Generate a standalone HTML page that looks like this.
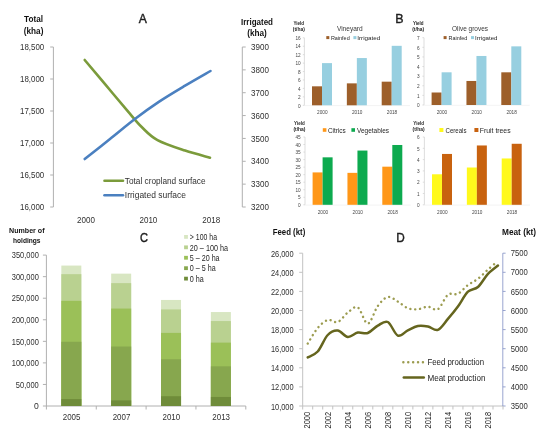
<!DOCTYPE html>
<html lang="en">
<head>
<meta charset="utf-8">
<title>Figure</title>
<style>
html,body{margin:0;padding:0;background:#fff;}
body{width:550px;height:438px;overflow:hidden;}
svg{display:block;font-family:"Liberation Sans",sans-serif;fill:#303030;}
#fig{filter:blur(0.5px);}
</style>
</head>
<body>
<svg width="550" height="438" viewBox="0 0 550 438">
<rect x="0" y="0" width="550" height="438" fill="#ffffff"/>
<g id="fig">
<line x1="53.40" y1="47.00" x2="53.40" y2="207.00" stroke="#b0b0b0" stroke-width="1"/>
<line x1="242.30" y1="47.00" x2="242.30" y2="207.00" stroke="#b0b0b0" stroke-width="1"/>
<line x1="50.20" y1="47.00" x2="53.40" y2="47.00" stroke="#b0b0b0" stroke-width="1"/>
<text x="44.20" y="47.20" font-size="8.6" text-anchor="end" dominant-baseline="central" textLength="24.20" lengthAdjust="spacingAndGlyphs">18,500</text>
<line x1="50.20" y1="79.00" x2="53.40" y2="79.00" stroke="#b0b0b0" stroke-width="1"/>
<text x="44.20" y="79.20" font-size="8.6" text-anchor="end" dominant-baseline="central" textLength="24.20" lengthAdjust="spacingAndGlyphs">18,000</text>
<line x1="50.20" y1="111.00" x2="53.40" y2="111.00" stroke="#b0b0b0" stroke-width="1"/>
<text x="44.20" y="111.20" font-size="8.6" text-anchor="end" dominant-baseline="central" textLength="24.20" lengthAdjust="spacingAndGlyphs">17,500</text>
<line x1="50.20" y1="143.00" x2="53.40" y2="143.00" stroke="#b0b0b0" stroke-width="1"/>
<text x="44.20" y="143.20" font-size="8.6" text-anchor="end" dominant-baseline="central" textLength="24.20" lengthAdjust="spacingAndGlyphs">17,000</text>
<line x1="50.20" y1="175.00" x2="53.40" y2="175.00" stroke="#b0b0b0" stroke-width="1"/>
<text x="44.20" y="175.20" font-size="8.6" text-anchor="end" dominant-baseline="central" textLength="24.20" lengthAdjust="spacingAndGlyphs">16,500</text>
<line x1="50.20" y1="207.00" x2="53.40" y2="207.00" stroke="#b0b0b0" stroke-width="1"/>
<text x="44.20" y="207.20" font-size="8.6" text-anchor="end" dominant-baseline="central" textLength="24.20" lengthAdjust="spacingAndGlyphs">16,000</text>
<line x1="242.30" y1="47.00" x2="245.70" y2="47.00" stroke="#b0b0b0" stroke-width="1"/>
<text x="251.00" y="47.20" font-size="8.6" text-anchor="start" dominant-baseline="central" textLength="17.90" lengthAdjust="spacingAndGlyphs">3900</text>
<line x1="242.30" y1="69.86" x2="245.70" y2="69.86" stroke="#b0b0b0" stroke-width="1"/>
<text x="251.00" y="70.06" font-size="8.6" text-anchor="start" dominant-baseline="central" textLength="17.90" lengthAdjust="spacingAndGlyphs">3800</text>
<line x1="242.30" y1="92.71" x2="245.70" y2="92.71" stroke="#b0b0b0" stroke-width="1"/>
<text x="251.00" y="92.91" font-size="8.6" text-anchor="start" dominant-baseline="central" textLength="17.90" lengthAdjust="spacingAndGlyphs">3700</text>
<line x1="242.30" y1="115.57" x2="245.70" y2="115.57" stroke="#b0b0b0" stroke-width="1"/>
<text x="251.00" y="115.77" font-size="8.6" text-anchor="start" dominant-baseline="central" textLength="17.90" lengthAdjust="spacingAndGlyphs">3600</text>
<line x1="242.30" y1="138.43" x2="245.70" y2="138.43" stroke="#b0b0b0" stroke-width="1"/>
<text x="251.00" y="138.63" font-size="8.6" text-anchor="start" dominant-baseline="central" textLength="17.90" lengthAdjust="spacingAndGlyphs">3500</text>
<line x1="242.30" y1="161.29" x2="245.70" y2="161.29" stroke="#b0b0b0" stroke-width="1"/>
<text x="251.00" y="161.49" font-size="8.6" text-anchor="start" dominant-baseline="central" textLength="17.90" lengthAdjust="spacingAndGlyphs">3400</text>
<line x1="242.30" y1="184.14" x2="245.70" y2="184.14" stroke="#b0b0b0" stroke-width="1"/>
<text x="251.00" y="184.34" font-size="8.6" text-anchor="start" dominant-baseline="central" textLength="17.90" lengthAdjust="spacingAndGlyphs">3300</text>
<line x1="242.30" y1="207.00" x2="245.70" y2="207.00" stroke="#b0b0b0" stroke-width="1"/>
<text x="251.00" y="207.20" font-size="8.6" text-anchor="start" dominant-baseline="central" textLength="17.90" lengthAdjust="spacingAndGlyphs">3200</text>
<text x="33.60" y="19.30" font-size="8.2" text-anchor="middle" dominant-baseline="central" font-weight="bold" fill="#111111">Total</text>
<text x="33.60" y="31.00" font-size="8.2" text-anchor="middle" dominant-baseline="central" font-weight="bold" fill="#111111">(kha)</text>
<text x="257.00" y="22.60" font-size="8.2" text-anchor="middle" dominant-baseline="central" font-weight="bold" fill="#111111" textLength="32.00" lengthAdjust="spacingAndGlyphs">Irrigated</text>
<text x="257.00" y="33.90" font-size="8.2" text-anchor="middle" dominant-baseline="central" font-weight="bold" fill="#111111">(kha)</text>
<text x="142.90" y="23.20" font-size="13.2" text-anchor="middle" fill="#1e1e1e" stroke="#1e1e1e" stroke-width="0.45" textLength="8.1" lengthAdjust="spacingAndGlyphs">A</text>
<text x="86.00" y="219.60" font-size="8.6" text-anchor="middle" dominant-baseline="central" textLength="17.90" lengthAdjust="spacingAndGlyphs">2000</text>
<text x="148.40" y="219.60" font-size="8.6" text-anchor="middle" dominant-baseline="central" textLength="17.90" lengthAdjust="spacingAndGlyphs">2010</text>
<text x="211.20" y="219.60" font-size="8.6" text-anchor="middle" dominant-baseline="central" textLength="17.90" lengthAdjust="spacingAndGlyphs">2018</text>
<path d="M84.70,60.00 C88.30,64.28 99.20,77.27 106.30,85.70 C113.40,94.13 121.40,103.72 127.30,110.60 C133.20,117.48 136.67,122.08 141.70,127.00 C146.73,131.92 150.27,136.17 157.50,140.10 C164.73,144.03 176.35,147.67 185.10,150.60 C193.85,153.53 205.85,156.52 210.00,157.70" fill="none" stroke="#7b9b3b" stroke-width="2.6" stroke-linecap="round"/>
<path d="M84.70,159.00 C88.92,155.67 101.58,145.70 110.00,139.00 C118.42,132.30 127.07,124.98 135.20,118.80 C143.33,112.62 150.48,107.42 158.80,101.90 C167.12,96.38 176.48,90.85 185.10,85.70 C193.72,80.55 206.27,73.45 210.50,71.00" fill="none" stroke="#4b80c0" stroke-width="2.6" stroke-linecap="round"/>
<line x1="104.5" y1="180.8" x2="123" y2="180.8" stroke="#7b9b3b" stroke-width="2.6" stroke-linecap="round"/>
<text x="124.80" y="180.80" font-size="8.6" text-anchor="start" dominant-baseline="central" textLength="80.80" lengthAdjust="spacingAndGlyphs">Total cropland surface</text>
<line x1="104.5" y1="195.2" x2="123" y2="195.2" stroke="#4b80c0" stroke-width="2.6" stroke-linecap="round"/>
<text x="124.80" y="195.20" font-size="8.6" text-anchor="start" dominant-baseline="central" textLength="61.20" lengthAdjust="spacingAndGlyphs">Irrigated surface</text>
<line x1="304.40" y1="37.80" x2="304.40" y2="105.30" stroke="#d4d4d4" stroke-width="0.8"/>
<line x1="304.40" y1="105.60" x2="410.00" y2="105.60" stroke="#ebebeb" stroke-width="0.6"/>
<line x1="302.80" y1="105.30" x2="304.40" y2="105.30" stroke="#d4d4d4" stroke-width="0.8"/>
<text x="300.70" y="106.00" font-size="4.7" text-anchor="end" dominant-baseline="central" fill="#464646">0</text>
<line x1="302.80" y1="96.86" x2="304.40" y2="96.86" stroke="#d4d4d4" stroke-width="0.8"/>
<text x="300.70" y="97.56" font-size="4.7" text-anchor="end" dominant-baseline="central" fill="#464646">2</text>
<line x1="302.80" y1="88.42" x2="304.40" y2="88.42" stroke="#d4d4d4" stroke-width="0.8"/>
<text x="300.70" y="89.12" font-size="4.7" text-anchor="end" dominant-baseline="central" fill="#464646">4</text>
<line x1="302.80" y1="79.99" x2="304.40" y2="79.99" stroke="#d4d4d4" stroke-width="0.8"/>
<text x="300.70" y="80.69" font-size="4.7" text-anchor="end" dominant-baseline="central" fill="#464646">6</text>
<line x1="302.80" y1="71.55" x2="304.40" y2="71.55" stroke="#d4d4d4" stroke-width="0.8"/>
<text x="300.70" y="72.25" font-size="4.7" text-anchor="end" dominant-baseline="central" fill="#464646">8</text>
<line x1="302.80" y1="63.11" x2="304.40" y2="63.11" stroke="#d4d4d4" stroke-width="0.8"/>
<text x="300.70" y="63.81" font-size="4.7" text-anchor="end" dominant-baseline="central" fill="#464646">10</text>
<line x1="302.80" y1="54.67" x2="304.40" y2="54.67" stroke="#d4d4d4" stroke-width="0.8"/>
<text x="300.70" y="55.38" font-size="4.7" text-anchor="end" dominant-baseline="central" fill="#464646">12</text>
<line x1="302.80" y1="46.24" x2="304.40" y2="46.24" stroke="#d4d4d4" stroke-width="0.8"/>
<text x="300.70" y="46.94" font-size="4.7" text-anchor="end" dominant-baseline="central" fill="#464646">14</text>
<line x1="302.80" y1="37.80" x2="304.40" y2="37.80" stroke="#d4d4d4" stroke-width="0.8"/>
<text x="300.70" y="38.50" font-size="4.7" text-anchor="end" dominant-baseline="central" fill="#464646">16</text>
<text x="298.80" y="23.00" font-size="4.7" text-anchor="middle" dominant-baseline="central" font-weight="bold" fill="#222" textLength="10.60" lengthAdjust="spacingAndGlyphs">Yield</text>
<text x="298.80" y="29.30" font-size="4.7" text-anchor="middle" dominant-baseline="central" font-weight="bold" fill="#222" textLength="12.00" lengthAdjust="spacingAndGlyphs">(t/ha)</text>
<rect x="312.00" y="86.32" width="10.00" height="18.98" fill="#9d5f2a"/>
<rect x="322.00" y="63.11" width="10.00" height="42.19" fill="#97cfe0"/>
<text x="322.30" y="112.30" font-size="4.7" text-anchor="middle" dominant-baseline="central" fill="#464646">2000</text>
<rect x="346.85" y="83.36" width="10.00" height="21.94" fill="#9d5f2a"/>
<rect x="356.85" y="58.05" width="10.00" height="47.25" fill="#97cfe0"/>
<text x="357.15" y="112.30" font-size="4.7" text-anchor="middle" dominant-baseline="central" fill="#464646">2010</text>
<rect x="381.70" y="81.67" width="10.00" height="23.62" fill="#9d5f2a"/>
<rect x="391.70" y="45.82" width="10.00" height="59.48" fill="#97cfe0"/>
<text x="392.00" y="112.30" font-size="4.7" text-anchor="middle" dominant-baseline="central" fill="#464646">2018</text>
<text x="349.80" y="28.00" font-size="6.8" text-anchor="middle" dominant-baseline="central" fill="#383838" textLength="25.80" lengthAdjust="spacingAndGlyphs">Vineyard</text>
<rect x="326.30" y="36.10" width="3.00" height="3.00" fill="#9d5f2a"/>
<text x="330.90" y="37.70" font-size="6.2" text-anchor="start" dominant-baseline="central" fill="#262626" textLength="18.80" lengthAdjust="spacingAndGlyphs">Rainfed</text>
<rect x="353.40" y="36.10" width="3.00" height="3.00" fill="#97cfe0"/>
<text x="357.20" y="37.70" font-size="6.2" text-anchor="start" dominant-baseline="central" fill="#262626" textLength="23.20" lengthAdjust="spacingAndGlyphs">Irrigated</text>
<line x1="424.00" y1="37.70" x2="424.00" y2="105.00" stroke="#d4d4d4" stroke-width="0.8"/>
<line x1="424.00" y1="105.30" x2="529.60" y2="105.30" stroke="#ebebeb" stroke-width="0.6"/>
<line x1="422.40" y1="105.00" x2="424.00" y2="105.00" stroke="#d4d4d4" stroke-width="0.8"/>
<text x="419.60" y="105.70" font-size="4.7" text-anchor="end" dominant-baseline="central" fill="#464646">0</text>
<line x1="422.40" y1="95.39" x2="424.00" y2="95.39" stroke="#d4d4d4" stroke-width="0.8"/>
<text x="419.60" y="96.09" font-size="4.7" text-anchor="end" dominant-baseline="central" fill="#464646">1</text>
<line x1="422.40" y1="85.77" x2="424.00" y2="85.77" stroke="#d4d4d4" stroke-width="0.8"/>
<text x="419.60" y="86.47" font-size="4.7" text-anchor="end" dominant-baseline="central" fill="#464646">2</text>
<line x1="422.40" y1="76.16" x2="424.00" y2="76.16" stroke="#d4d4d4" stroke-width="0.8"/>
<text x="419.60" y="76.86" font-size="4.7" text-anchor="end" dominant-baseline="central" fill="#464646">3</text>
<line x1="422.40" y1="66.54" x2="424.00" y2="66.54" stroke="#d4d4d4" stroke-width="0.8"/>
<text x="419.60" y="67.24" font-size="4.7" text-anchor="end" dominant-baseline="central" fill="#464646">4</text>
<line x1="422.40" y1="56.93" x2="424.00" y2="56.93" stroke="#d4d4d4" stroke-width="0.8"/>
<text x="419.60" y="57.63" font-size="4.7" text-anchor="end" dominant-baseline="central" fill="#464646">5</text>
<line x1="422.40" y1="47.31" x2="424.00" y2="47.31" stroke="#d4d4d4" stroke-width="0.8"/>
<text x="419.60" y="48.01" font-size="4.7" text-anchor="end" dominant-baseline="central" fill="#464646">6</text>
<line x1="422.40" y1="37.70" x2="424.00" y2="37.70" stroke="#d4d4d4" stroke-width="0.8"/>
<text x="419.60" y="38.40" font-size="4.7" text-anchor="end" dominant-baseline="central" fill="#464646">7</text>
<text x="418.20" y="23.00" font-size="4.7" text-anchor="middle" dominant-baseline="central" font-weight="bold" fill="#222" textLength="10.60" lengthAdjust="spacingAndGlyphs">Yield</text>
<text x="418.20" y="29.30" font-size="4.7" text-anchor="middle" dominant-baseline="central" font-weight="bold" fill="#222" textLength="12.00" lengthAdjust="spacingAndGlyphs">(t/ha)</text>
<rect x="431.60" y="92.50" width="10.00" height="12.50" fill="#9d5f2a"/>
<rect x="441.60" y="72.31" width="10.00" height="32.69" fill="#97cfe0"/>
<text x="441.90" y="112.30" font-size="4.7" text-anchor="middle" dominant-baseline="central" fill="#464646">2000</text>
<rect x="466.45" y="80.96" width="10.00" height="24.04" fill="#9d5f2a"/>
<rect x="476.45" y="55.97" width="10.00" height="49.03" fill="#97cfe0"/>
<text x="476.75" y="112.30" font-size="4.7" text-anchor="middle" dominant-baseline="central" fill="#464646">2010</text>
<rect x="501.30" y="72.31" width="10.00" height="32.69" fill="#9d5f2a"/>
<rect x="511.30" y="46.35" width="10.00" height="58.65" fill="#97cfe0"/>
<text x="511.60" y="112.30" font-size="4.7" text-anchor="middle" dominant-baseline="central" fill="#464646">2018</text>
<text x="470.00" y="28.00" font-size="6.8" text-anchor="middle" dominant-baseline="central" fill="#383838" textLength="36.00" lengthAdjust="spacingAndGlyphs">Olive groves</text>
<rect x="443.60" y="36.10" width="3.00" height="3.00" fill="#9d5f2a"/>
<text x="448.60" y="37.70" font-size="6.2" text-anchor="start" dominant-baseline="central" fill="#262626" textLength="18.70" lengthAdjust="spacingAndGlyphs">Rainfed</text>
<rect x="471.00" y="36.10" width="3.00" height="3.00" fill="#97cfe0"/>
<text x="475.00" y="37.70" font-size="6.2" text-anchor="start" dominant-baseline="central" fill="#262626" textLength="22.50" lengthAdjust="spacingAndGlyphs">Irrigated</text>
<line x1="305.00" y1="137.00" x2="305.00" y2="204.80" stroke="#d4d4d4" stroke-width="0.8"/>
<line x1="305.00" y1="205.10" x2="410.60" y2="205.10" stroke="#ebebeb" stroke-width="0.6"/>
<line x1="303.40" y1="204.80" x2="305.00" y2="204.80" stroke="#d4d4d4" stroke-width="0.8"/>
<text x="300.60" y="205.50" font-size="4.7" text-anchor="end" dominant-baseline="central" fill="#464646">0</text>
<line x1="303.40" y1="197.27" x2="305.00" y2="197.27" stroke="#d4d4d4" stroke-width="0.8"/>
<text x="300.60" y="197.97" font-size="4.7" text-anchor="end" dominant-baseline="central" fill="#464646">5</text>
<line x1="303.40" y1="189.73" x2="305.00" y2="189.73" stroke="#d4d4d4" stroke-width="0.8"/>
<text x="300.60" y="190.43" font-size="4.7" text-anchor="end" dominant-baseline="central" fill="#464646">10</text>
<line x1="303.40" y1="182.20" x2="305.00" y2="182.20" stroke="#d4d4d4" stroke-width="0.8"/>
<text x="300.60" y="182.90" font-size="4.7" text-anchor="end" dominant-baseline="central" fill="#464646">15</text>
<line x1="303.40" y1="174.67" x2="305.00" y2="174.67" stroke="#d4d4d4" stroke-width="0.8"/>
<text x="300.60" y="175.37" font-size="4.7" text-anchor="end" dominant-baseline="central" fill="#464646">20</text>
<line x1="303.40" y1="167.13" x2="305.00" y2="167.13" stroke="#d4d4d4" stroke-width="0.8"/>
<text x="300.60" y="167.83" font-size="4.7" text-anchor="end" dominant-baseline="central" fill="#464646">25</text>
<line x1="303.40" y1="159.60" x2="305.00" y2="159.60" stroke="#d4d4d4" stroke-width="0.8"/>
<text x="300.60" y="160.30" font-size="4.7" text-anchor="end" dominant-baseline="central" fill="#464646">30</text>
<line x1="303.40" y1="152.07" x2="305.00" y2="152.07" stroke="#d4d4d4" stroke-width="0.8"/>
<text x="300.60" y="152.77" font-size="4.7" text-anchor="end" dominant-baseline="central" fill="#464646">35</text>
<line x1="303.40" y1="144.53" x2="305.00" y2="144.53" stroke="#d4d4d4" stroke-width="0.8"/>
<text x="300.60" y="145.23" font-size="4.7" text-anchor="end" dominant-baseline="central" fill="#464646">40</text>
<line x1="303.40" y1="137.00" x2="305.00" y2="137.00" stroke="#d4d4d4" stroke-width="0.8"/>
<text x="300.60" y="137.70" font-size="4.7" text-anchor="end" dominant-baseline="central" fill="#464646">45</text>
<text x="299.40" y="123.20" font-size="4.7" text-anchor="middle" dominant-baseline="central" font-weight="bold" fill="#222" textLength="10.60" lengthAdjust="spacingAndGlyphs">Yield</text>
<text x="299.40" y="129.50" font-size="4.7" text-anchor="middle" dominant-baseline="central" font-weight="bold" fill="#222" textLength="12.00" lengthAdjust="spacingAndGlyphs">(t/ha)</text>
<rect x="312.60" y="172.41" width="10.00" height="32.39" fill="#ff9718"/>
<rect x="322.60" y="157.34" width="10.00" height="47.46" fill="#0daa4f"/>
<text x="322.90" y="212.00" font-size="4.7" text-anchor="middle" dominant-baseline="central" fill="#464646">2000</text>
<rect x="347.45" y="172.86" width="10.00" height="31.94" fill="#ff9718"/>
<rect x="357.45" y="150.56" width="10.00" height="54.24" fill="#0daa4f"/>
<text x="357.75" y="212.00" font-size="4.7" text-anchor="middle" dominant-baseline="central" fill="#464646">2010</text>
<rect x="382.30" y="166.68" width="10.00" height="38.12" fill="#ff9718"/>
<rect x="392.30" y="144.99" width="10.00" height="59.81" fill="#0daa4f"/>
<text x="392.60" y="212.00" font-size="4.7" text-anchor="middle" dominant-baseline="central" fill="#464646">2018</text>
<rect x="322.80" y="128.20" width="3.60" height="3.60" fill="#ff9718"/>
<text x="328.00" y="130.00" font-size="7.6" text-anchor="start" dominant-baseline="central" fill="#262626" textLength="17.70" lengthAdjust="spacingAndGlyphs">Citrics</text>
<rect x="351.40" y="128.20" width="3.60" height="3.60" fill="#0daa4f"/>
<text x="357.00" y="130.00" font-size="7.6" text-anchor="start" dominant-baseline="central" fill="#262626" textLength="32.00" lengthAdjust="spacingAndGlyphs">Vegetables</text>
<line x1="424.40" y1="137.00" x2="424.40" y2="204.80" stroke="#d4d4d4" stroke-width="0.8"/>
<line x1="424.40" y1="205.10" x2="530.00" y2="205.10" stroke="#ebebeb" stroke-width="0.6"/>
<line x1="422.80" y1="204.80" x2="424.40" y2="204.80" stroke="#d4d4d4" stroke-width="0.8"/>
<text x="419.60" y="205.50" font-size="4.7" text-anchor="end" dominant-baseline="central" fill="#464646">0</text>
<line x1="422.80" y1="193.50" x2="424.40" y2="193.50" stroke="#d4d4d4" stroke-width="0.8"/>
<text x="419.60" y="194.20" font-size="4.7" text-anchor="end" dominant-baseline="central" fill="#464646">1</text>
<line x1="422.80" y1="182.20" x2="424.40" y2="182.20" stroke="#d4d4d4" stroke-width="0.8"/>
<text x="419.60" y="182.90" font-size="4.7" text-anchor="end" dominant-baseline="central" fill="#464646">2</text>
<line x1="422.80" y1="170.90" x2="424.40" y2="170.90" stroke="#d4d4d4" stroke-width="0.8"/>
<text x="419.60" y="171.60" font-size="4.7" text-anchor="end" dominant-baseline="central" fill="#464646">3</text>
<line x1="422.80" y1="159.60" x2="424.40" y2="159.60" stroke="#d4d4d4" stroke-width="0.8"/>
<text x="419.60" y="160.30" font-size="4.7" text-anchor="end" dominant-baseline="central" fill="#464646">4</text>
<line x1="422.80" y1="148.30" x2="424.40" y2="148.30" stroke="#d4d4d4" stroke-width="0.8"/>
<text x="419.60" y="149.00" font-size="4.7" text-anchor="end" dominant-baseline="central" fill="#464646">5</text>
<line x1="422.80" y1="137.00" x2="424.40" y2="137.00" stroke="#d4d4d4" stroke-width="0.8"/>
<text x="419.60" y="137.70" font-size="4.7" text-anchor="end" dominant-baseline="central" fill="#464646">6</text>
<text x="418.60" y="123.00" font-size="4.7" text-anchor="middle" dominant-baseline="central" font-weight="bold" fill="#222" textLength="10.60" lengthAdjust="spacingAndGlyphs">Yield</text>
<text x="418.60" y="129.30" font-size="4.7" text-anchor="middle" dominant-baseline="central" font-weight="bold" fill="#222" textLength="12.00" lengthAdjust="spacingAndGlyphs">(t/ha)</text>
<rect x="432.00" y="174.29" width="10.00" height="30.51" fill="#fff91c"/>
<rect x="442.00" y="153.95" width="10.00" height="50.85" fill="#c8620f"/>
<text x="442.30" y="212.00" font-size="4.7" text-anchor="middle" dominant-baseline="central" fill="#464646">2000</text>
<rect x="466.85" y="167.51" width="10.00" height="37.29" fill="#fff91c"/>
<rect x="476.85" y="145.47" width="10.00" height="59.33" fill="#c8620f"/>
<text x="477.15" y="212.00" font-size="4.7" text-anchor="middle" dominant-baseline="central" fill="#464646">2010</text>
<rect x="501.70" y="158.47" width="10.00" height="46.33" fill="#fff91c"/>
<rect x="511.70" y="143.78" width="10.00" height="61.02" fill="#c8620f"/>
<text x="512.00" y="212.00" font-size="4.7" text-anchor="middle" dominant-baseline="central" fill="#464646">2018</text>
<rect x="439.40" y="128.00" width="4.00" height="4.00" fill="#fff91c"/>
<text x="445.50" y="130.00" font-size="7.6" text-anchor="start" dominant-baseline="central" fill="#262626" textLength="21.00" lengthAdjust="spacingAndGlyphs">Cereals</text>
<rect x="474.40" y="128.00" width="4.00" height="4.00" fill="#c8620f"/>
<text x="479.80" y="130.00" font-size="7.6" text-anchor="start" dominant-baseline="central" fill="#262626" textLength="30.80" lengthAdjust="spacingAndGlyphs">Fruit trees</text>
<text x="399.50" y="22.80" font-size="13.7" text-anchor="middle" fill="#1e1e1e" stroke="#1e1e1e" stroke-width="0.45" textLength="8.3" lengthAdjust="spacingAndGlyphs">B</text>
<line x1="46.40" y1="255.10" x2="46.40" y2="406.00" stroke="#b0b0b0" stroke-width="1"/>
<line x1="46.40" y1="406.00" x2="245.80" y2="406.00" stroke="#b0b0b0" stroke-width="1"/>
<line x1="42.90" y1="255.10" x2="46.40" y2="255.10" stroke="#b0b0b0" stroke-width="1"/>
<text x="38.80" y="255.30" font-size="8.6" text-anchor="end" dominant-baseline="central" textLength="27.00" lengthAdjust="spacingAndGlyphs">350,000</text>
<line x1="42.90" y1="276.66" x2="46.40" y2="276.66" stroke="#b0b0b0" stroke-width="1"/>
<text x="38.80" y="276.86" font-size="8.6" text-anchor="end" dominant-baseline="central" textLength="27.00" lengthAdjust="spacingAndGlyphs">300,000</text>
<line x1="42.90" y1="298.21" x2="46.40" y2="298.21" stroke="#b0b0b0" stroke-width="1"/>
<text x="38.80" y="298.41" font-size="8.6" text-anchor="end" dominant-baseline="central" textLength="27.00" lengthAdjust="spacingAndGlyphs">250,000</text>
<line x1="42.90" y1="319.77" x2="46.40" y2="319.77" stroke="#b0b0b0" stroke-width="1"/>
<text x="38.80" y="319.97" font-size="8.6" text-anchor="end" dominant-baseline="central" textLength="27.00" lengthAdjust="spacingAndGlyphs">200,000</text>
<line x1="42.90" y1="341.33" x2="46.40" y2="341.33" stroke="#b0b0b0" stroke-width="1"/>
<text x="38.80" y="341.53" font-size="8.6" text-anchor="end" dominant-baseline="central" textLength="27.00" lengthAdjust="spacingAndGlyphs">150,000</text>
<line x1="42.90" y1="362.89" x2="46.40" y2="362.89" stroke="#b0b0b0" stroke-width="1"/>
<text x="38.80" y="363.09" font-size="8.6" text-anchor="end" dominant-baseline="central" textLength="27.00" lengthAdjust="spacingAndGlyphs">100,000</text>
<line x1="42.90" y1="384.44" x2="46.40" y2="384.44" stroke="#b0b0b0" stroke-width="1"/>
<text x="38.80" y="384.64" font-size="8.6" text-anchor="end" dominant-baseline="central" textLength="23.00" lengthAdjust="spacingAndGlyphs">50,000</text>
<line x1="42.90" y1="406.00" x2="46.40" y2="406.00" stroke="#b0b0b0" stroke-width="1"/>
<text x="38.80" y="406.20" font-size="8.6" text-anchor="end" dominant-baseline="central">0</text>
<line x1="46.40" y1="406.00" x2="46.40" y2="409.50" stroke="#b0b0b0" stroke-width="1"/>
<line x1="96.25" y1="406.00" x2="96.25" y2="409.50" stroke="#b0b0b0" stroke-width="1"/>
<line x1="146.10" y1="406.00" x2="146.10" y2="409.50" stroke="#b0b0b0" stroke-width="1"/>
<line x1="195.95" y1="406.00" x2="195.95" y2="409.50" stroke="#b0b0b0" stroke-width="1"/>
<line x1="245.80" y1="406.00" x2="245.80" y2="409.50" stroke="#b0b0b0" stroke-width="1"/>
<rect x="61.33" y="265.56" width="20.00" height="140.44" fill="#d8e6c2"/>
<rect x="61.33" y="274.16" width="20.00" height="131.84" fill="#b9d190"/>
<rect x="61.33" y="300.84" width="20.00" height="105.16" fill="#9bc058"/>
<rect x="61.33" y="341.76" width="20.00" height="64.24" fill="#87a74e"/>
<rect x="61.33" y="399.10" width="20.00" height="6.90" fill="#6f8c3a"/>
<text x="71.62" y="417.20" font-size="8.6" text-anchor="middle" dominant-baseline="central" textLength="17.70" lengthAdjust="spacingAndGlyphs">2005</text>
<rect x="111.18" y="273.64" width="20.00" height="132.36" fill="#d8e6c2"/>
<rect x="111.18" y="283.12" width="20.00" height="122.88" fill="#b9d190"/>
<rect x="111.18" y="308.56" width="20.00" height="97.44" fill="#9bc058"/>
<rect x="111.18" y="346.50" width="20.00" height="59.50" fill="#87a74e"/>
<rect x="111.18" y="400.40" width="20.00" height="5.60" fill="#6f8c3a"/>
<text x="121.48" y="417.20" font-size="8.6" text-anchor="middle" dominant-baseline="central" textLength="17.70" lengthAdjust="spacingAndGlyphs">2007</text>
<rect x="161.03" y="299.94" width="20.00" height="106.06" fill="#d8e6c2"/>
<rect x="161.03" y="309.42" width="20.00" height="96.58" fill="#b9d190"/>
<rect x="161.03" y="332.88" width="20.00" height="73.12" fill="#9bc058"/>
<rect x="161.03" y="359.26" width="20.00" height="46.74" fill="#87a74e"/>
<rect x="161.03" y="396.21" width="20.00" height="9.79" fill="#6f8c3a"/>
<text x="171.33" y="417.20" font-size="8.6" text-anchor="middle" dominant-baseline="central" textLength="17.70" lengthAdjust="spacingAndGlyphs">2010</text>
<rect x="210.88" y="312.05" width="20.00" height="93.95" fill="#d8e6c2"/>
<rect x="210.88" y="321.06" width="20.00" height="84.94" fill="#b9d190"/>
<rect x="210.88" y="342.62" width="20.00" height="63.38" fill="#9bc058"/>
<rect x="210.88" y="366.33" width="20.00" height="39.67" fill="#87a74e"/>
<rect x="210.88" y="396.95" width="20.00" height="9.05" fill="#6f8c3a"/>
<text x="221.18" y="417.20" font-size="8.6" text-anchor="middle" dominant-baseline="central" textLength="17.70" lengthAdjust="spacingAndGlyphs">2013</text>
<text x="26.80" y="230.60" font-size="7.8" text-anchor="middle" dominant-baseline="central" font-weight="bold" fill="#111111" textLength="35.50" lengthAdjust="spacingAndGlyphs">Number of</text>
<text x="26.80" y="240.00" font-size="7.8" text-anchor="middle" dominant-baseline="central" font-weight="bold" fill="#111111" textLength="27.50" lengthAdjust="spacingAndGlyphs">holdings</text>
<text x="143.90" y="241.90" font-size="13.2" text-anchor="middle" fill="#1e1e1e" stroke="#1e1e1e" stroke-width="0.45" textLength="8.0" lengthAdjust="spacingAndGlyphs">C</text>
<rect x="184.10" y="235.00" width="3.80" height="3.80" fill="#d8e6c2"/>
<text x="189.80" y="237.10" font-size="9.0" text-anchor="start" dominant-baseline="central" fill="#262626" textLength="27.20" lengthAdjust="spacingAndGlyphs">&gt; 100 ha</text>
<rect x="184.10" y="245.43" width="3.80" height="3.80" fill="#b9d190"/>
<text x="189.80" y="247.53" font-size="9.0" text-anchor="start" dominant-baseline="central" fill="#262626" textLength="38.20" lengthAdjust="spacingAndGlyphs">20 – 100 ha</text>
<rect x="184.10" y="255.86" width="3.80" height="3.80" fill="#9bc058"/>
<text x="189.80" y="257.96" font-size="9.0" text-anchor="start" dominant-baseline="central" fill="#262626" textLength="29.80" lengthAdjust="spacingAndGlyphs">5 – 20 ha</text>
<rect x="184.10" y="266.29" width="3.80" height="3.80" fill="#87a74e"/>
<text x="189.80" y="268.39" font-size="9.0" text-anchor="start" dominant-baseline="central" fill="#262626" textLength="25.90" lengthAdjust="spacingAndGlyphs">0 – 5 ha</text>
<rect x="184.10" y="276.72" width="3.80" height="3.80" fill="#6f8c3a"/>
<text x="189.80" y="278.82" font-size="9.0" text-anchor="start" dominant-baseline="central" fill="#262626" textLength="14.00" lengthAdjust="spacingAndGlyphs">0 ha</text>
<line x1="302.70" y1="253.20" x2="302.70" y2="406.00" stroke="#c2c2c2" stroke-width="1"/>
<line x1="302.70" y1="406.00" x2="503.00" y2="406.00" stroke="#c2c2c2" stroke-width="1"/>
<line x1="502.80" y1="253.20" x2="502.80" y2="406.00" stroke="#8795c6" stroke-width="0.85"/>
<line x1="299.20" y1="253.20" x2="302.70" y2="253.20" stroke="#c2c2c2" stroke-width="1"/>
<text x="293.60" y="253.70" font-size="8.3" text-anchor="end" dominant-baseline="central" textLength="22.70" lengthAdjust="spacingAndGlyphs">26,000</text>
<line x1="502.80" y1="253.20" x2="505.60" y2="253.20" stroke="#8795c6" stroke-width="0.85"/>
<text x="510.80" y="253.30" font-size="8.3" text-anchor="start" dominant-baseline="central" textLength="17.10" lengthAdjust="spacingAndGlyphs">7500</text>
<line x1="299.20" y1="272.30" x2="302.70" y2="272.30" stroke="#c2c2c2" stroke-width="1"/>
<text x="293.60" y="272.80" font-size="8.3" text-anchor="end" dominant-baseline="central" textLength="22.70" lengthAdjust="spacingAndGlyphs">24,000</text>
<line x1="502.80" y1="272.30" x2="505.60" y2="272.30" stroke="#8795c6" stroke-width="0.85"/>
<text x="510.80" y="272.40" font-size="8.3" text-anchor="start" dominant-baseline="central" textLength="17.10" lengthAdjust="spacingAndGlyphs">7000</text>
<line x1="299.20" y1="291.40" x2="302.70" y2="291.40" stroke="#c2c2c2" stroke-width="1"/>
<text x="293.60" y="291.90" font-size="8.3" text-anchor="end" dominant-baseline="central" textLength="22.70" lengthAdjust="spacingAndGlyphs">22,000</text>
<line x1="502.80" y1="291.40" x2="505.60" y2="291.40" stroke="#8795c6" stroke-width="0.85"/>
<text x="510.80" y="291.50" font-size="8.3" text-anchor="start" dominant-baseline="central" textLength="17.10" lengthAdjust="spacingAndGlyphs">6500</text>
<line x1="299.20" y1="310.50" x2="302.70" y2="310.50" stroke="#c2c2c2" stroke-width="1"/>
<text x="293.60" y="311.00" font-size="8.3" text-anchor="end" dominant-baseline="central" textLength="22.70" lengthAdjust="spacingAndGlyphs">20,000</text>
<line x1="502.80" y1="310.50" x2="505.60" y2="310.50" stroke="#8795c6" stroke-width="0.85"/>
<text x="510.80" y="310.60" font-size="8.3" text-anchor="start" dominant-baseline="central" textLength="17.10" lengthAdjust="spacingAndGlyphs">6000</text>
<line x1="299.20" y1="329.60" x2="302.70" y2="329.60" stroke="#c2c2c2" stroke-width="1"/>
<text x="293.60" y="330.10" font-size="8.3" text-anchor="end" dominant-baseline="central" textLength="22.70" lengthAdjust="spacingAndGlyphs">18,000</text>
<line x1="502.80" y1="329.60" x2="505.60" y2="329.60" stroke="#8795c6" stroke-width="0.85"/>
<text x="510.80" y="329.70" font-size="8.3" text-anchor="start" dominant-baseline="central" textLength="17.10" lengthAdjust="spacingAndGlyphs">5500</text>
<line x1="299.20" y1="348.70" x2="302.70" y2="348.70" stroke="#c2c2c2" stroke-width="1"/>
<text x="293.60" y="349.20" font-size="8.3" text-anchor="end" dominant-baseline="central" textLength="22.70" lengthAdjust="spacingAndGlyphs">16,000</text>
<line x1="502.80" y1="348.70" x2="505.60" y2="348.70" stroke="#8795c6" stroke-width="0.85"/>
<text x="510.80" y="348.80" font-size="8.3" text-anchor="start" dominant-baseline="central" textLength="17.10" lengthAdjust="spacingAndGlyphs">5000</text>
<line x1="299.20" y1="367.80" x2="302.70" y2="367.80" stroke="#c2c2c2" stroke-width="1"/>
<text x="293.60" y="368.30" font-size="8.3" text-anchor="end" dominant-baseline="central" textLength="22.70" lengthAdjust="spacingAndGlyphs">14,000</text>
<line x1="502.80" y1="367.80" x2="505.60" y2="367.80" stroke="#8795c6" stroke-width="0.85"/>
<text x="510.80" y="367.90" font-size="8.3" text-anchor="start" dominant-baseline="central" textLength="17.10" lengthAdjust="spacingAndGlyphs">4500</text>
<line x1="299.20" y1="386.90" x2="302.70" y2="386.90" stroke="#c2c2c2" stroke-width="1"/>
<text x="293.60" y="387.40" font-size="8.3" text-anchor="end" dominant-baseline="central" textLength="22.70" lengthAdjust="spacingAndGlyphs">12,000</text>
<line x1="502.80" y1="386.90" x2="505.60" y2="386.90" stroke="#8795c6" stroke-width="0.85"/>
<text x="510.80" y="387.00" font-size="8.3" text-anchor="start" dominant-baseline="central" textLength="17.10" lengthAdjust="spacingAndGlyphs">4000</text>
<line x1="299.20" y1="406.00" x2="302.70" y2="406.00" stroke="#c2c2c2" stroke-width="1"/>
<text x="293.60" y="406.50" font-size="8.3" text-anchor="end" dominant-baseline="central" textLength="22.70" lengthAdjust="spacingAndGlyphs">10,000</text>
<line x1="502.80" y1="406.00" x2="505.60" y2="406.00" stroke="#8795c6" stroke-width="0.85"/>
<text x="510.80" y="406.10" font-size="8.3" text-anchor="start" dominant-baseline="central" textLength="17.10" lengthAdjust="spacingAndGlyphs">3500</text>
<line x1="302.70" y1="406.00" x2="302.70" y2="409.50" stroke="#c2c2c2" stroke-width="1"/>
<line x1="312.71" y1="406.00" x2="312.71" y2="409.50" stroke="#c2c2c2" stroke-width="1"/>
<line x1="322.73" y1="406.00" x2="322.73" y2="409.50" stroke="#c2c2c2" stroke-width="1"/>
<line x1="332.75" y1="406.00" x2="332.75" y2="409.50" stroke="#c2c2c2" stroke-width="1"/>
<line x1="342.76" y1="406.00" x2="342.76" y2="409.50" stroke="#c2c2c2" stroke-width="1"/>
<line x1="352.77" y1="406.00" x2="352.77" y2="409.50" stroke="#c2c2c2" stroke-width="1"/>
<line x1="362.79" y1="406.00" x2="362.79" y2="409.50" stroke="#c2c2c2" stroke-width="1"/>
<line x1="372.81" y1="406.00" x2="372.81" y2="409.50" stroke="#c2c2c2" stroke-width="1"/>
<line x1="382.82" y1="406.00" x2="382.82" y2="409.50" stroke="#c2c2c2" stroke-width="1"/>
<line x1="392.83" y1="406.00" x2="392.83" y2="409.50" stroke="#c2c2c2" stroke-width="1"/>
<line x1="402.85" y1="406.00" x2="402.85" y2="409.50" stroke="#c2c2c2" stroke-width="1"/>
<line x1="412.87" y1="406.00" x2="412.87" y2="409.50" stroke="#c2c2c2" stroke-width="1"/>
<line x1="422.88" y1="406.00" x2="422.88" y2="409.50" stroke="#c2c2c2" stroke-width="1"/>
<line x1="432.89" y1="406.00" x2="432.89" y2="409.50" stroke="#c2c2c2" stroke-width="1"/>
<line x1="442.91" y1="406.00" x2="442.91" y2="409.50" stroke="#c2c2c2" stroke-width="1"/>
<line x1="452.93" y1="406.00" x2="452.93" y2="409.50" stroke="#c2c2c2" stroke-width="1"/>
<line x1="462.94" y1="406.00" x2="462.94" y2="409.50" stroke="#c2c2c2" stroke-width="1"/>
<line x1="472.95" y1="406.00" x2="472.95" y2="409.50" stroke="#c2c2c2" stroke-width="1"/>
<line x1="482.97" y1="406.00" x2="482.97" y2="409.50" stroke="#c2c2c2" stroke-width="1"/>
<line x1="492.99" y1="406.00" x2="492.99" y2="409.50" stroke="#c2c2c2" stroke-width="1"/>
<line x1="503.00" y1="406.00" x2="503.00" y2="409.50" stroke="#c2c2c2" stroke-width="1"/>
<text x="308.01" y="420.20" font-size="8.2" text-anchor="middle" dominant-baseline="central" fill="#262626" textLength="16.50" lengthAdjust="spacingAndGlyphs" transform="rotate(-90 308.01 420.20)">2000</text>
<text x="328.04" y="420.20" font-size="8.2" text-anchor="middle" dominant-baseline="central" fill="#262626" textLength="16.50" lengthAdjust="spacingAndGlyphs" transform="rotate(-90 328.04 420.20)">2002</text>
<text x="348.07" y="420.20" font-size="8.2" text-anchor="middle" dominant-baseline="central" fill="#262626" textLength="16.50" lengthAdjust="spacingAndGlyphs" transform="rotate(-90 348.07 420.20)">2004</text>
<text x="368.10" y="420.20" font-size="8.2" text-anchor="middle" dominant-baseline="central" fill="#262626" textLength="16.50" lengthAdjust="spacingAndGlyphs" transform="rotate(-90 368.10 420.20)">2006</text>
<text x="388.13" y="420.20" font-size="8.2" text-anchor="middle" dominant-baseline="central" fill="#262626" textLength="16.50" lengthAdjust="spacingAndGlyphs" transform="rotate(-90 388.13 420.20)">2008</text>
<text x="408.16" y="420.20" font-size="8.2" text-anchor="middle" dominant-baseline="central" fill="#262626" textLength="16.50" lengthAdjust="spacingAndGlyphs" transform="rotate(-90 408.16 420.20)">2010</text>
<text x="428.19" y="420.20" font-size="8.2" text-anchor="middle" dominant-baseline="central" fill="#262626" textLength="16.50" lengthAdjust="spacingAndGlyphs" transform="rotate(-90 428.19 420.20)">2012</text>
<text x="448.22" y="420.20" font-size="8.2" text-anchor="middle" dominant-baseline="central" fill="#262626" textLength="16.50" lengthAdjust="spacingAndGlyphs" transform="rotate(-90 448.22 420.20)">2014</text>
<text x="468.25" y="420.20" font-size="8.2" text-anchor="middle" dominant-baseline="central" fill="#262626" textLength="16.50" lengthAdjust="spacingAndGlyphs" transform="rotate(-90 468.25 420.20)">2016</text>
<text x="488.28" y="420.20" font-size="8.2" text-anchor="middle" dominant-baseline="central" fill="#262626" textLength="16.50" lengthAdjust="spacingAndGlyphs" transform="rotate(-90 488.28 420.20)">2018</text>
<text x="289.00" y="231.80" font-size="8.3" text-anchor="middle" dominant-baseline="central" font-weight="bold" fill="#111111" textLength="32.60" lengthAdjust="spacingAndGlyphs">Feed (kt)</text>
<text x="519.00" y="232.40" font-size="8.3" text-anchor="middle" dominant-baseline="central" font-weight="bold" fill="#111111" textLength="34.00" lengthAdjust="spacingAndGlyphs">Meat (kt)</text>
<text x="400.40" y="241.80" font-size="13.2" text-anchor="middle" fill="#1e1e1e" stroke="#1e1e1e" stroke-width="0.45" textLength="8.5" lengthAdjust="spacingAndGlyphs">D</text>
<path d="M307.71,343.60 C309.38,341.00 314.38,331.93 317.72,328.00 C321.06,324.07 324.40,321.00 327.74,320.00 C331.08,319.00 334.41,323.23 337.75,322.00 C341.09,320.77 344.43,315.03 347.77,312.60 C351.11,310.17 354.44,305.57 357.78,307.40 C361.12,309.23 364.46,323.83 367.80,323.60 C371.14,323.37 374.47,310.43 377.81,306.00 C381.15,301.57 384.49,297.73 387.83,297.00 C391.17,296.27 394.50,299.73 397.84,301.60 C401.18,303.47 404.52,306.93 407.86,308.20 C411.20,309.47 414.53,309.45 417.87,309.20 C421.21,308.95 424.55,306.70 427.89,306.70 C431.23,306.70 434.56,311.18 437.90,309.20 C441.24,307.22 444.58,297.37 447.92,294.80 C451.26,292.23 454.59,295.43 457.93,293.80 C461.27,292.17 464.61,287.50 467.95,285.00 C471.29,282.50 474.62,281.37 477.96,278.80 C481.30,276.23 484.97,272.30 487.98,269.60 C490.98,266.90 494.66,263.77 495.99,262.60" fill="none" stroke="#9c9c50" stroke-width="2.4" stroke-linecap="round" stroke-dasharray="0.1 4.8"/>
<path d="M307.71,357.40 C309.38,356.42 314.38,355.23 317.72,351.50 C321.06,347.77 324.40,338.48 327.74,335.00 C331.08,331.52 334.41,330.27 337.75,330.60 C341.09,330.93 344.43,336.67 347.77,337.00 C351.11,337.33 354.44,333.27 357.78,332.60 C361.12,331.93 364.46,334.17 367.80,333.00 C371.14,331.83 374.47,327.43 377.81,325.60 C381.15,323.77 384.49,320.33 387.83,322.00 C391.17,323.67 394.50,334.22 397.84,335.60 C401.18,336.98 404.52,331.90 407.86,330.30 C411.20,328.70 414.53,326.63 417.87,326.00 C421.21,325.37 424.55,325.87 427.89,326.50 C431.23,327.13 434.56,331.07 437.90,329.80 C441.24,328.53 444.58,322.78 447.92,318.90 C451.26,315.02 454.59,311.03 457.93,306.50 C461.27,301.97 464.61,294.95 467.95,291.70 C471.29,288.45 474.62,289.98 477.96,287.00 C481.30,284.02 484.64,277.38 487.98,273.80 C491.32,270.22 496.32,266.88 497.99,265.50" fill="none" stroke="#65651e" stroke-width="2.5" stroke-linecap="round"/>
<line x1="403.3" y1="362.3" x2="424" y2="362.3" stroke="#9c9c50" stroke-width="2.4" stroke-linecap="round" stroke-dasharray="0.1 4.8"/>
<text x="427.40" y="362.30" font-size="8.3" text-anchor="start" dominant-baseline="central" fill="#222222" textLength="56.60" lengthAdjust="spacingAndGlyphs">Feed production</text>
<line x1="403.8" y1="377.6" x2="423.8" y2="377.6" stroke="#65651e" stroke-width="2.5" stroke-linecap="round"/>
<text x="427.40" y="377.70" font-size="8.3" text-anchor="start" dominant-baseline="central" fill="#222222" textLength="58.00" lengthAdjust="spacingAndGlyphs">Meat production</text>
</g>
</svg>
</body>
</html>
